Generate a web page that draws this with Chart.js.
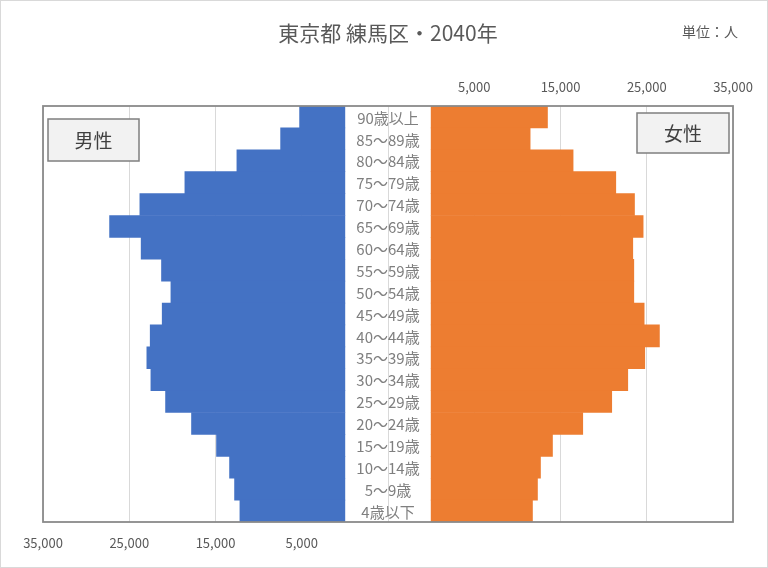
<!DOCTYPE html>
<html>
<head>
<meta charset="utf-8">
<script src="https://cdn.jsdelivr.net/npm/chart.js@4.4.1/dist/chart.umd.min.js"></script>
<style>
html,body{margin:0;padding:0;background:#fff;}
#wrap{width:768px;height:568px;position:relative;}
canvas{display:block;}
</style>
</head>
<body>
<div id="wrap"><canvas id="c" width="768" height="568"></canvas></div>
<script>
// ---- data ----
const titleText = '東京都 練馬区・2040年';
const unitText = '単位：人';
const ageGroups = ['90歳以上','85～89歳','80～84歳','75～79歳','70～74歳','65～69歳','60～64歳','55～59歳','50～54歳','45～49歳','40～44歳','35～39歳','30～34歳','25～29歳','20～24歳','15～19歳','10～14歳','5～9歳','4歳以下'];
const male   = [5250, 7450, 12520, 18550, 23770, 27280, 23620, 21260, 20170, 21180, 22570, 22960, 22490, 20790, 17780, 14880, 13370, 12790, 12170];
const female = [13490, 11480, 16460, 21410, 23580, 24580, 23380, 23500, 23500, 24700, 26470, 24770, 22800, 20940, 17580, 14070, 12680, 12330, 11750];
const seriesNames = ['男性', '女性'];
const axisMin = -45000, axisMax = 35000, axisStep = 10000;

const FONT = '"Noto Sans CJK JP", "Noto Sans", sans-serif';

const deco = {
  id: 'deco',
  beforeDraw(chart) {
    const ctx = chart.ctx;
    ctx.save();
    ctx.fillStyle = '#ffffff';
    ctx.fillRect(0, 0, chart.width, chart.height);
    ctx.strokeStyle = '#d9d9d9';
    ctx.lineWidth = 1;
    ctx.strokeRect(0.5, 0.5, chart.width - 1, chart.height - 1);
    ctx.restore();
  },
  afterDatasetsDraw(chart) {
    const ctx = chart.ctx;
    const a = chart.chartArea;
    const x = chart.scales.x, y = chart.scales.y;
    ctx.save();
    // plot border
    ctx.strokeStyle = '#8a8a8a';
    ctx.lineWidth = 1.8;
    ctx.strokeRect(a.left, a.top, a.right - a.left, a.bottom - a.top);
    // category labels in the centre gap
    const cx = x.getPixelForValue(-5000);
    ctx.fillStyle = '#7f7f7f';
    ctx.font = '15px ' + FONT;
    ctx.textAlign = 'center';
    ctx.textBaseline = 'middle';
    ageGroups.forEach((t, i) => ctx.fillText(t, cx, y.getPixelForValue(i) + 1));
    // series boxes
    const boxes = [
      {t: seriesNames[0], l: a.left + 5, tp: a.top + 13, w: 91, h: 42},
      {t: seriesNames[1], l: a.right - 96, tp: a.top + 7, w: 92, h: 40}
    ];
    boxes.forEach(b => {
      ctx.fillStyle = '#f2f2f2';
      ctx.fillRect(b.l, b.tp, b.w, b.h);
      ctx.strokeStyle = '#7f7f7f';
      ctx.lineWidth = 1.5;
      ctx.strokeRect(b.l, b.tp, b.w, b.h);
      ctx.fillStyle = '#404040';
      ctx.font = '19px ' + FONT;
      ctx.fillText(b.t, b.l + b.w / 2, b.tp + b.h / 2 + 1);
    });
    // unit
    ctx.fillStyle = '#595959';
    ctx.font = '14px ' + FONT;
    ctx.textAlign = 'right';
    ctx.fillText(unitText, 738, 32);
    ctx.restore();
  }
};

const tickFmt = v => v > 0 ? v.toLocaleString('en-US') : '';

new Chart(document.getElementById('c'), {
  type: 'bar',
  data: {
    labels: ageGroups,
    datasets: [
      {label: seriesNames[0], data: male, xAxisID: 'x', backgroundColor: '#4472C4', borderWidth: 0},
      {label: seriesNames[1], data: female, xAxisID: 'x2', backgroundColor: '#ED7D31', borderWidth: 0}
    ]
  },
  options: {
    responsive: false,
    animation: false,
    devicePixelRatio: 1,
    indexAxis: 'y',
    datasets: {bar: {grouped: false, barPercentage: 1, categoryPercentage: 1}},
    layout: {padding: {left: 43, right: 35, top: 0, bottom: 0}},
    plugins: {
      legend: {display: false},
      tooltip: {enabled: false},
      title: {
        display: true, text: titleText, color: '#595959',
        font: {family: FONT, size: 21, weight: 'normal', lineHeight: 1.2},
        padding: {top: 20, bottom: 0}
      }
    },
    scales: {
      x: {
        type: 'linear', position: 'bottom', reverse: true,
        min: axisMin, max: axisMax,
        ticks: {stepSize: axisStep, callback: tickFmt, color: '#595959', font: {family: FONT, size: 13}, padding: 13, maxRotation: 0, autoSkip: false},
        grid: {color: '#d9d9d9', lineWidth: 1, drawTicks: false},
        border: {display: false},
        afterFit: s => { s.height = 46; }
      },
      x2: {
        type: 'linear', position: 'top',
        min: axisMin, max: axisMax,
        ticks: {stepSize: axisStep, callback: tickFmt, color: '#595959', font: {family: FONT, size: 13}, padding: 11, maxRotation: 0, autoSkip: false},
        grid: {display: false, drawTicks: false},
        border: {display: false},
        afterFit: s => { s.height = 60.8; }
      },
      y: {
        type: 'category', display: false
      }
    }
  },
  plugins: [deco]
});
</script>
</body>
</html>
